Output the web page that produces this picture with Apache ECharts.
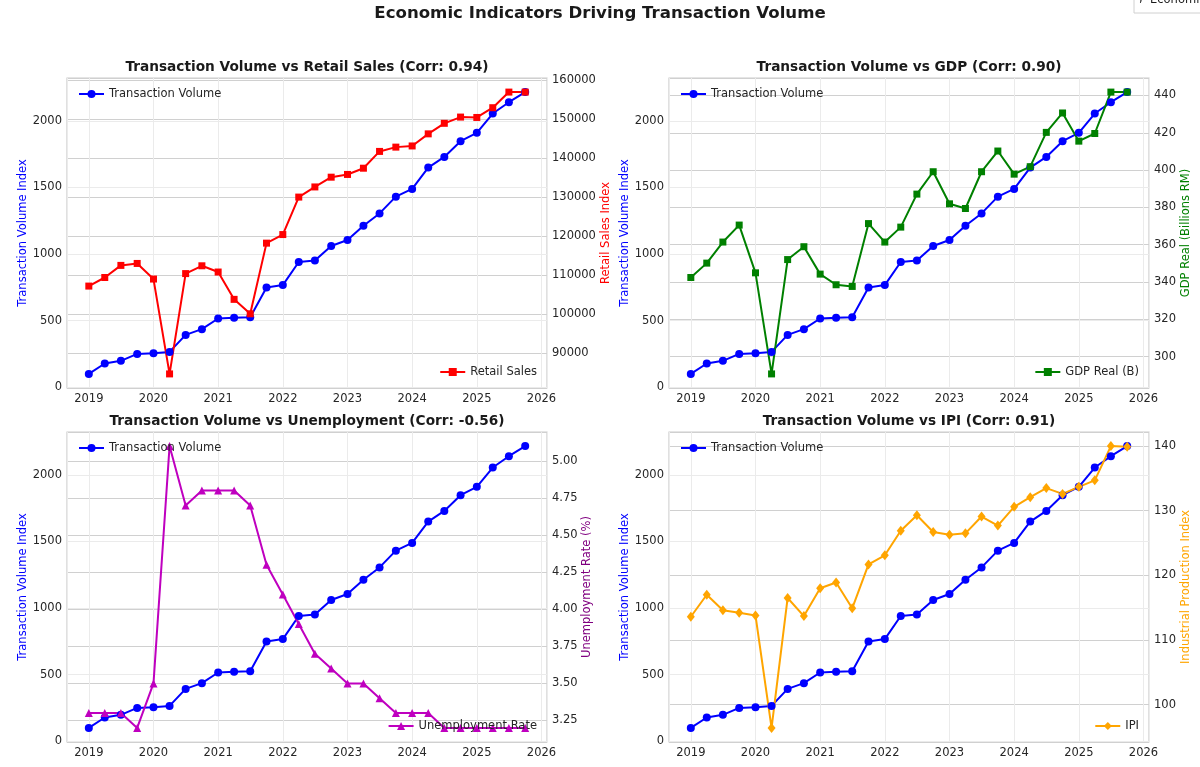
<!DOCTYPE html>
<html lang="en">
<head>
<meta charset="UTF-8">
<title>Economic Indicators Driving Transaction Volume</title>
<script src="https://cdn.jsdelivr.net/npm/echarts@6/dist/echarts.min.js"></script>
<style>
    html, body { margin: 0; padding: 0; background: #fff; }
    #chart { width: 1200px; height: 767px; }
</style>
</head>
<body>
<div id="chart"></div>
<script>
    // quarterly observations
    var quarters = [
        '2019-01-01', '2019-04-01', '2019-07-01', '2019-10-01',
        '2020-01-01', '2020-04-01', '2020-07-01', '2020-10-01',
        '2021-01-01', '2021-04-01', '2021-07-01', '2021-10-01',
        '2022-01-01', '2022-04-01', '2022-07-01', '2022-10-01',
        '2023-01-01', '2023-04-01', '2023-07-01', '2023-10-01',
        '2024-01-01', '2024-04-01', '2024-07-01', '2024-10-01',
        '2025-01-01', '2025-04-01', '2025-07-01', '2025-10-01'
    ];
    var volume = [100, 178, 198, 250, 255, 265, 393, 436, 516, 521, 526, 749, 767, 940,
                  952, 1060, 1105, 1213, 1305, 1431, 1489, 1649, 1729, 1847, 1910, 2055, 2140, 2216];
    var retailSales = [107200, 109400, 112500, 113000, 109000, 84700, 110400, 112400, 110800, 103800,
                       100100, 118200, 120400, 130000, 132600, 135100, 135800, 137400, 141700, 142800,
                       143100, 146200, 148900, 150500, 150400, 152900, 156900, 156900];
    var gdpReal = [342.4, 350.1, 361.4, 370.5, 344.9, 290.7, 352.0, 358.9, 344.2, 338.5, 337.6, 371.3,
                   361.4, 369.4, 387.1, 399.1, 381.9, 379.4, 399.1, 410.2, 397.8, 401.8, 420.2, 430.6,
                   415.5, 419.6, 441.8, 441.8];
    var unemployment = [3.3, 3.3, 3.3, 3.2, 3.5, 5.1, 4.7, 4.8, 4.8, 4.8, 4.7, 4.3, 4.1, 3.9,
                        3.7, 3.6, 3.5, 3.5, 3.4, 3.3, 3.3, 3.3, 3.2, 3.2, 3.2, 3.2, 3.2, 3.2];
    var ipi = [113.6, 117.0, 114.6, 114.2, 113.8, 96.4, 116.5, 113.7, 118.0, 118.9, 114.9, 121.7,
               123.1, 126.9, 129.3, 126.7, 126.3, 126.5, 129.1, 127.7, 130.6, 132.1, 133.5, 132.6,
               133.7, 134.7, 140.0, 139.9];
    var correlations = ['0.94', '0.90', '-0.56', '0.91'];
    var yearTicks = [2019, 2020, 2021, 2022, 2023, 2024, 2025, 2026];

    var FONT = 'DejaVu Sans';
    var FS = 11.5;
    var W = 1200;
    var cellW = 480, cellH = 310;
    var cells = [
        {left: 67, top: 78}, {left: 669, top: 78},
        {left: 67, top: 432}, {left: 669, top: 432}
    ];

    var panels = [
        {title: 'Retail Sales', name: 'Retail Sales', data: retailSales, color: '#ff0000', nameColor: '#ff0000',
         axisName: 'Retail Sales Index', symbol: 'rect', size: 7, step: 10000, digits: 0, gap: 49},
        {title: 'GDP', name: 'GDP Real (B)', data: gdpReal, color: '#008000', nameColor: '#008000',
         axisName: 'GDP Real (Billions RM)', symbol: 'rect', size: 7, step: 20, digits: 0, gap: 29},
        {title: 'Unemployment', name: 'Unemployment Rate', data: unemployment, color: '#bf00bf', nameColor: '#800080',
         axisName: 'Unemployment Rate (%)', symbol: 'triangle', size: 8, step: 0.25, digits: 2, gap: 34},
        {title: 'IPI', name: 'IPI', data: ipi, color: '#ffa500', nameColor: '#ffa500',
         axisName: 'Industrial Production Index', symbol: 'diamond', size: [8, 10], step: 10, digits: 0, gap: 28}
    ];

    function toYear(s) {
        var d = new Date(s + 'T00:00:00Z');
        var y = d.getUTCFullYear();
        var a = Date.UTC(y, 0, 1), b = Date.UTC(y + 1, 0, 1);
        return y + (d.getTime() - a) / (b - a);
    }
    function pad(arr) {
        var mn = Math.min.apply(null, arr), mx = Math.max.apply(null, arr), r = mx - mn;
        return [mn - 0.05 * r, mx + 0.05 * r];
    }
    function fmt(step, digits) {
        return function (v) {
            var k = v / step;
            return Math.abs(k - Math.round(k)) < 1e-6 ? v.toFixed(digits) : '';
        };
    }

    var xs = quarters.map(toYear);
    var xExt = pad(xs);
    var volExt = pad(volume);

    var option = {
        animation: false,
        backgroundColor: '#ffffff',
        title: [{
            text: 'Economic Indicators Driving Transaction Volume',
            left: 'center', top: 5, padding: 0,
            textStyle: {fontFamily: FONT, fontSize: 16.6, fontWeight: 'bold', color: '#1a1a1a'}
        }],
        grid: [], xAxis: [], yAxis: [], series: [], legend: [],
        graphic: [
            {type: 'rect', shape: {x: 1134, y: -20, width: 90, height: 33},
             style: {fill: '#ffffff', stroke: '#d0d0d0', lineWidth: 1}},
            {type: 'text', x: 1150, y: -6,
             style: {text: 'Economic', font: '11.5px "DejaVu Sans"', fill: '#1a1a1a'}},
            {type: 'text', x: 1139, y: -7,
             style: {text: ',', font: '11.5px "DejaVu Sans"', fill: '#1a1a1a'}}
        ]
    };

    panels.forEach(function (p, i) {
        var c = cells[i];
        var ext = pad(p.data);
        option.title.push({
            text: 'Transaction Volume vs ' + p.title + ' (Corr: ' + correlations[i] + ')',
            left: c.left + cellW / 2, top: c.top - 18, padding: 0, textAlign: 'center',
            textStyle: {fontFamily: FONT, fontSize: 13.7, fontWeight: 'bold', color: '#1a1a1a'}
        });
        option.grid.push({
            left: c.left, top: c.top, width: cellW, height: cellH,
            show: true, borderColor: '#cccccc', borderWidth: 1.2, backgroundColor: 'transparent',
            containLabel: false, outerBoundsMode: 'none'
        });
        option.xAxis.push({
            type: 'value', gridIndex: i, min: xExt[0], max: xExt[1],
            minInterval: 1, maxInterval: 1,
            axisLine: {show: false}, axisTick: {show: false},
            axisLabel: {
                margin: 5, fontFamily: FONT, fontSize: FS, color: '#262626',
                formatter: function (v) { return yearTicks.indexOf(Math.round(v)) >= 0 && Math.abs(v - Math.round(v)) < 1e-6 ? String(Math.round(v)) : ''; }
            },
            splitLine: {show: true, lineStyle: {color: '#ebebeb', width: 1}}
        });
        option.yAxis.push({
            type: 'value', gridIndex: i, position: 'left', min: volExt[0], max: volExt[1],
            minInterval: 500, maxInterval: 500,
            name: 'Transaction Volume Index', nameLocation: 'middle', nameGap: 37,
            nameTextStyle: {fontFamily: FONT, fontSize: FS, color: '#0000ff'},
            axisLine: {show: false}, axisTick: {show: false},
            axisLabel: {margin: 5, fontFamily: FONT, fontSize: FS, color: '#262626', formatter: fmt(500, 0)},
            splitLine: {show: true, lineStyle: {color: '#ebebeb', width: 1}}
        });
        option.yAxis.push({
            type: 'value', gridIndex: i, position: 'right', min: ext[0], max: ext[1],
            minInterval: p.step, maxInterval: p.step,
            name: p.axisName, nameLocation: 'middle', nameGap: p.gap,
            nameTextStyle: {fontFamily: FONT, fontSize: FS, color: p.nameColor},
            axisLine: {show: false}, axisTick: {show: false},
            axisLabel: {margin: 5, fontFamily: FONT, fontSize: FS, color: '#262626', formatter: fmt(p.step, p.digits)},
            splitLine: {show: true, lineStyle: {color: '#d0d0d0', width: 1}}
        });
        option.series.push({
            name: 'Transaction Volume', type: 'line', xAxisIndex: i, yAxisIndex: 2 * i,
            data: xs.map(function (x, k) { return [x, volume[k]]; }),
            symbol: 'circle', symbolSize: 8, showAllSymbol: true,
            lineStyle: {color: '#0000ff', width: 2}, itemStyle: {color: '#0000ff'}
        });
        option.series.push({
            name: p.name, type: 'line', xAxisIndex: i, yAxisIndex: 2 * i + 1,
            data: xs.map(function (x, k) { return [x, p.data[k]]; }),
            symbol: p.symbol, symbolSize: p.size, showAllSymbol: true,
            lineStyle: {color: p.color, width: 2}, itemStyle: {color: p.color}
        });
        var legendText = {fontFamily: FONT, fontSize: FS, color: '#262626'};
        option.legend.push({
            data: ['Transaction Volume'], left: c.left + 6, top: c.top + 5,
            itemWidth: 25, itemHeight: 10, itemGap: 5, textStyle: legendText, selectedMode: false
        });
        option.legend.push({
            data: [p.name], right: W - (c.left + cellW) + 5, top: c.top + 283,
            itemWidth: 25, itemHeight: 10, itemGap: 5, textStyle: legendText, selectedMode: false
        });
    });

    var chart = echarts.init(document.getElementById('chart'), null, {renderer: 'canvas'});
    chart.setOption(option);
</script>
</body>
</html>
